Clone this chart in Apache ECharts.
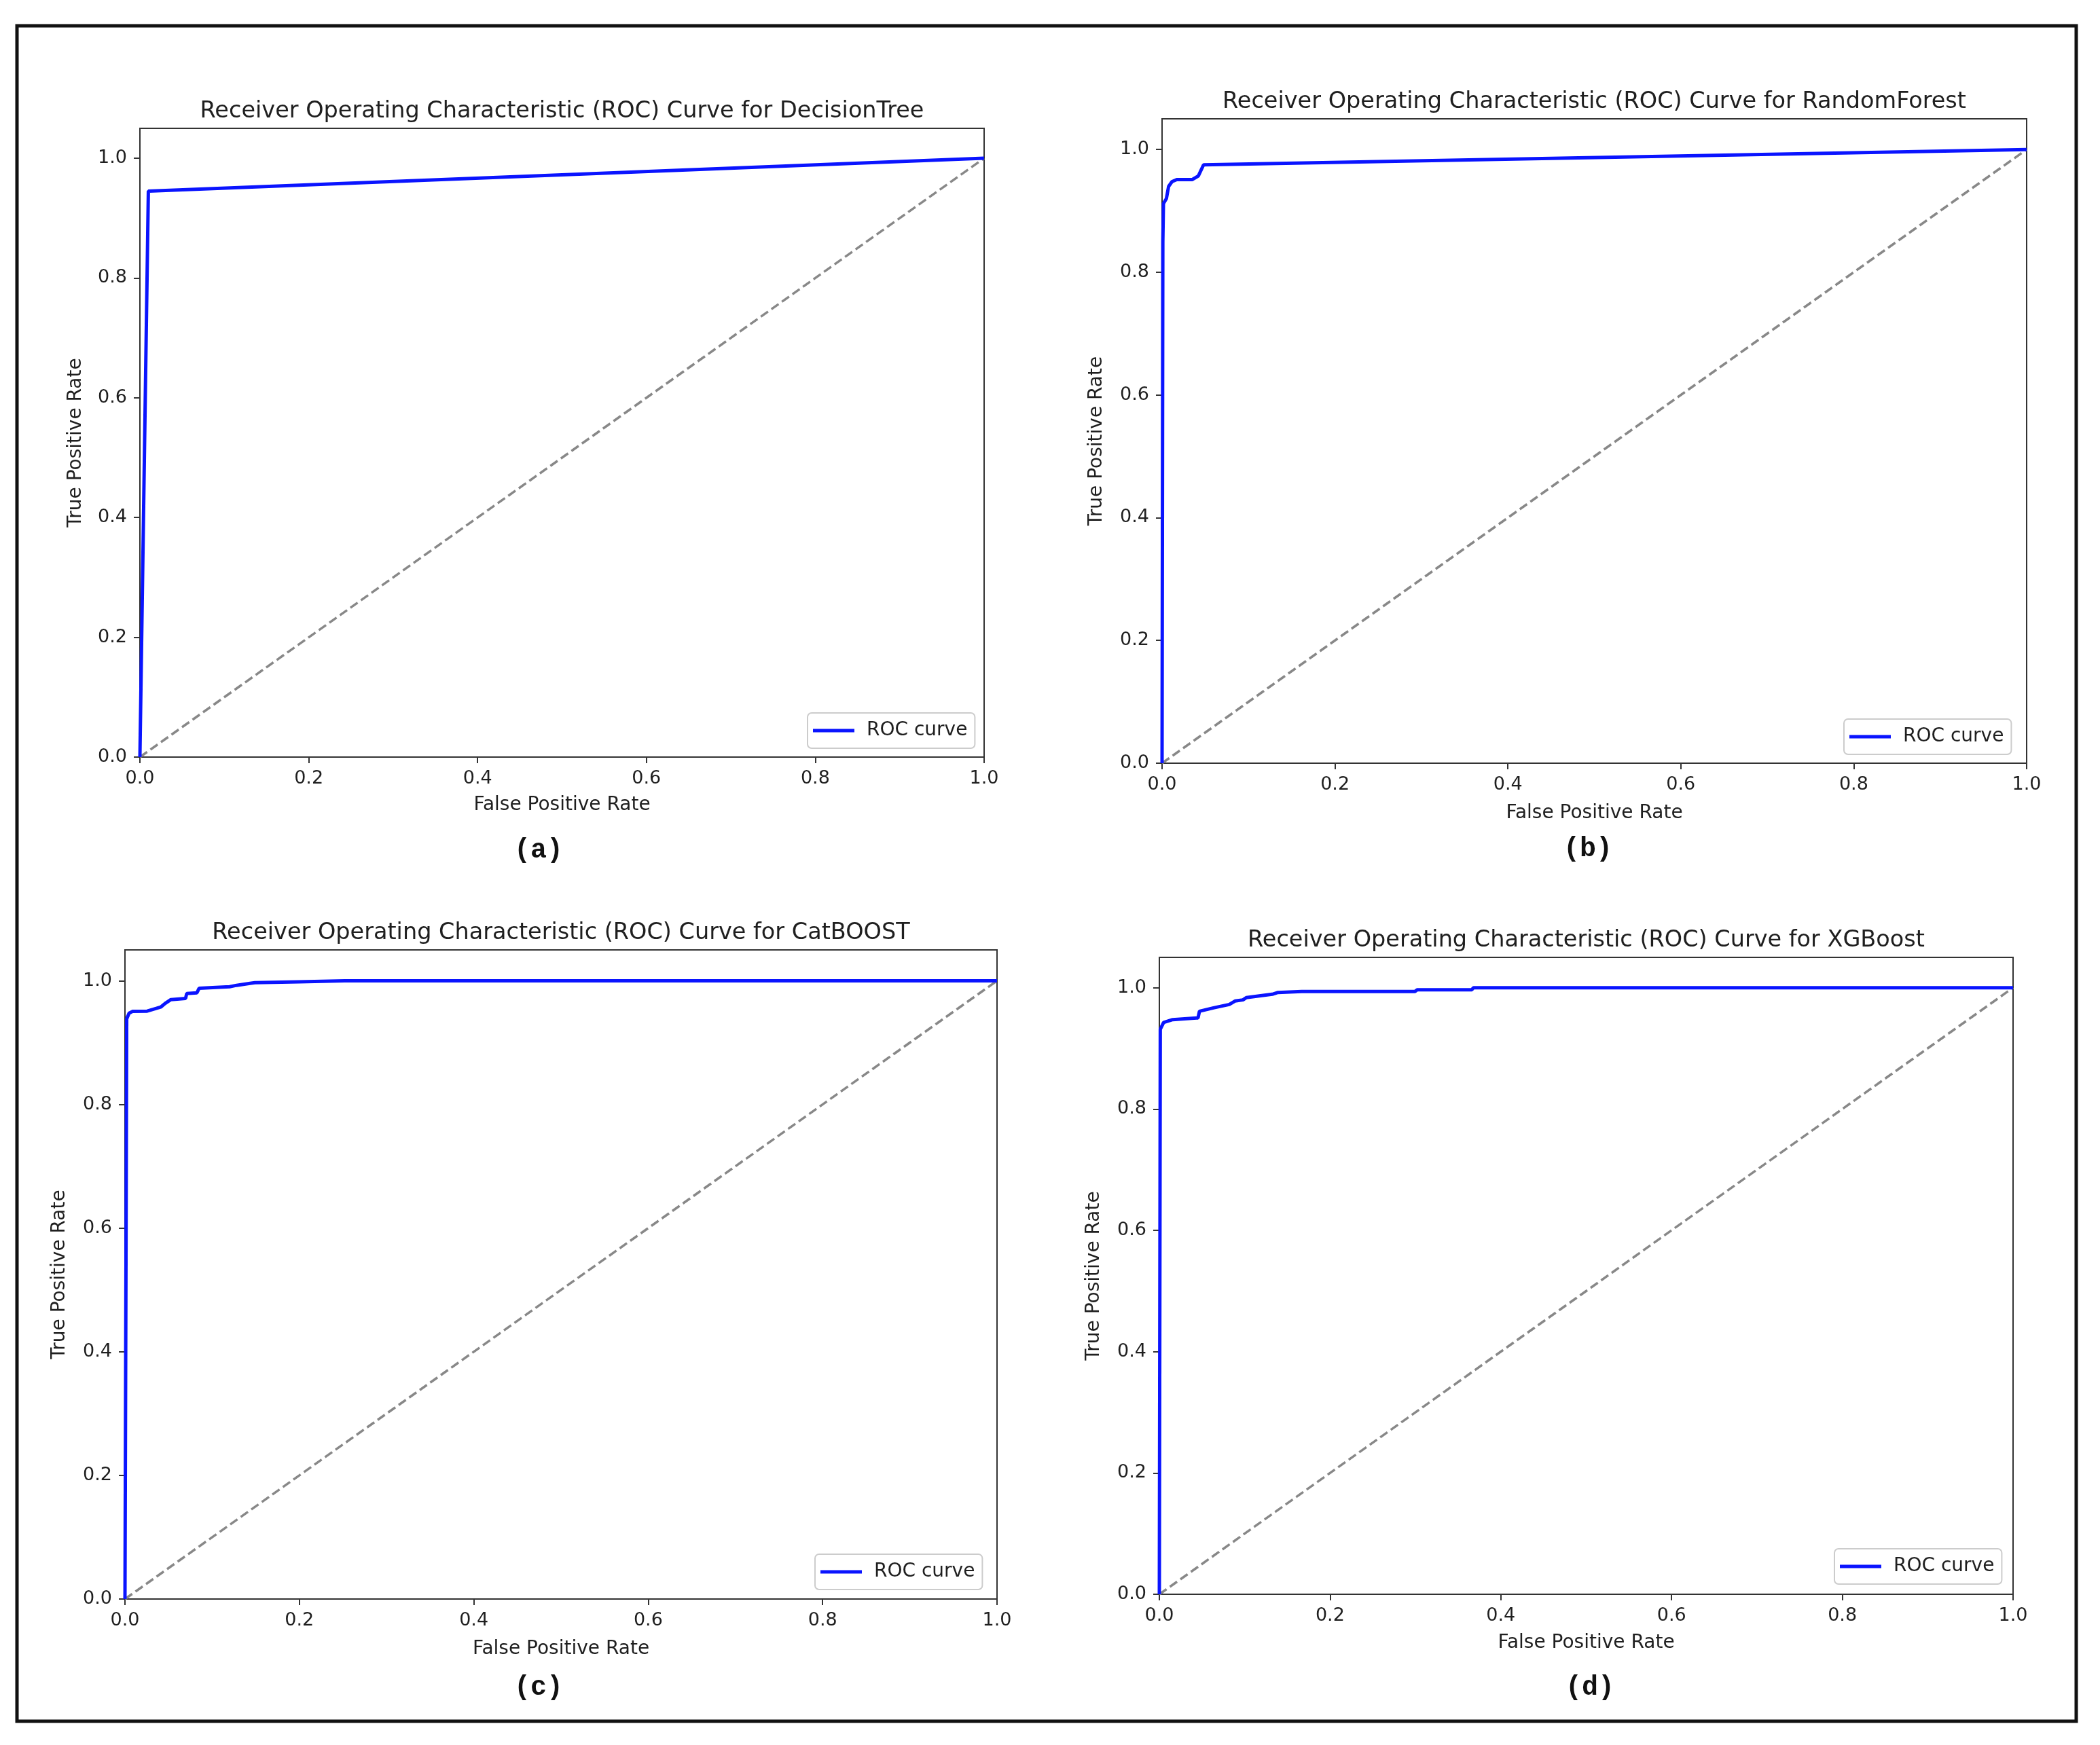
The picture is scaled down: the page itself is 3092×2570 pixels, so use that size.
<!DOCTYPE html>
<html><head><meta charset="utf-8">
<script src="https://cdn.jsdelivr.net/npm/echarts@6/dist/echarts.min.js"></script>
<style>html,body{margin:0;padding:0;background:#fff}#c{width:3092px;height:2570px}</style>
</head><body><div id="c"></div>
<script>
// ---- data ----
const modelNames = ['DecisionTree', 'RandomForest', 'CatBOOST', 'XGBoost'];
const panelLetters = ['(a)', '(b)', '(c)', '(d)'];
const tickValues = [0, 0.2, 0.4, 0.6, 0.8, 1.0];
const diagonalFpr = [0, 1];
const diagonalTpr = [0, 1];

const fprDecisionTree = [0, 0.01, 1];
const tprDecisionTree = [0, 0.945, 1];

const fprRandomForest = [0, 0.0009, 0.0016, 0.005, 0.0076, 0.0115, 0.017, 0.035, 0.042, 0.048, 1];
const tprRandomForest = [0, 0.85, 0.912, 0.92, 0.94, 0.9476, 0.951, 0.951, 0.957, 0.975, 1];

const fprCatBoost = [0, 0.002, 0.0047, 0.0086, 0.0254, 0.032, 0.041, 0.046, 0.0527, 0.0695, 0.0708, 0.0825, 0.085, 0.12, 0.128, 0.1434, 0.149, 0.2, 0.252, 1];
const tprCatBoost = [0, 0.9385, 0.9476, 0.9505, 0.951, 0.9538, 0.9575, 0.9634, 0.9696, 0.9714, 0.9795, 0.9806, 0.9879, 0.9905, 0.9927, 0.996, 0.997, 0.9985, 1, 1];

const fprXGBoost = [0, 0.0011, 0.005, 0.0156, 0.0435, 0.0453, 0.047, 0.0634, 0.0819, 0.0886, 0.0979, 0.1018, 0.1323, 0.139, 0.1668, 0.2994, 0.302, 0.366, 0.368, 1];
const tprXGBoost = [0, 0.9314, 0.9426, 0.9474, 0.95, 0.95, 0.9612, 0.9668, 0.9724, 0.978, 0.9799, 0.9836, 0.9892, 0.9922, 0.9937, 0.9937, 0.9966, 0.9966, 1, 1];

const fprAll = [fprDecisionTree, fprRandomForest, fprCatBoost, fprXGBoost];
const tprAll = [tprDecisionTree, tprRandomForest, tprCatBoost, tprXGBoost];

// ---- layout ----
const gridBoxes = [
  {left: 206, top: 189, width: 1243, height: 926},
  {left: 1711, top: 175, width: 1273, height: 949},
  {left: 184, top: 1399, width: 1284, height: 956},
  {left: 1707, top: 1410, width: 1257, height: 938}
];
const xNameGaps = [57, 60, 60, 58];
const yNameGaps = [80, 82, 82, 82];
const legendPos = [[1189, 1050], [2715, 1059], [1200, 2289], [2701, 2281]];
const letterPos = [[793, 1253], [2338, 1251], [793, 2486], [2341, 2486]];

const SANS = 'DejaVu Sans';
const TXT = '#1f1f1f';
const SPINE = '#333';

const pairs = (xs, ys) => xs.map((x, i) => [x, ys[i]]);

const grid = [], xAxis = [], yAxis = [], series = [], title = [], legend = [];
gridBoxes.forEach((g, i) => {
  grid.push({left: g.left, top: g.top, width: g.width, height: g.height, show: true,
    borderColor: SPINE, borderWidth: 2, backgroundColor: 'transparent', containLabel: false});
  xAxis.push({type: 'value', gridIndex: i, min: 0, max: 1, interval: 0.2,
    name: 'False Positive Rate', nameLocation: 'middle', nameGap: xNameGaps[i],
    nameTextStyle: {fontFamily: SANS, fontSize: 28, color: TXT},
    axisLine: {show: true, onZero: false, lineStyle: {color: SPINE, width: 2}},
    axisTick: {show: true, length: 9, lineStyle: {color: SPINE, width: 2}, customValues: tickValues},
    axisLabel: {fontFamily: SANS, fontSize: 27, color: TXT, margin: 18, customValues: tickValues,
      formatter: v => v.toFixed(1)},
    splitLine: {show: false}});
  yAxis.push({type: 'value', gridIndex: i, min: 0, max: 1.05, interval: 0.2,
    name: 'True Positive Rate', nameLocation: 'middle', nameGap: yNameGaps[i], nameRotate: 90,
    nameTextStyle: {fontFamily: SANS, fontSize: 28, color: TXT},
    axisLine: {show: true, onZero: false, lineStyle: {color: SPINE, width: 2}},
    axisTick: {show: true, length: 9, lineStyle: {color: SPINE, width: 2}, customValues: tickValues},
    axisLabel: {fontFamily: SANS, fontSize: 27, color: TXT, margin: 19, customValues: tickValues,
      formatter: v => v.toFixed(1)},
    splitLine: {show: false}});
  series.push({type: 'line', name: 'diagonal', xAxisIndex: i, yAxisIndex: i,
    data: pairs(diagonalFpr, diagonalTpr), symbol: 'none', silent: true, z: 2,
    lineStyle: {color: '#888888', width: 3.5, type: [13, 6]}});
  series.push({type: 'line', name: 'ROC curve', xAxisIndex: i, yAxisIndex: i,
    data: pairs(fprAll[i], tprAll[i]), symbol: 'none', showSymbol: false, z: 3,
    lineStyle: {color: '#0a14ff', width: 5}, itemStyle: {color: '#0a14ff'}});
  title.push({text: 'Receiver Operating Characteristic (ROC) Curve for ' + modelNames[i],
    left: g.left + g.width / 2, top: g.top - 42, textAlign: 'center', padding: 0,
    textStyle: {fontFamily: SANS, fontSize: 33.5, fontWeight: 'normal', color: TXT}});
  title.push({text: panelLetters[i], left: letterPos[i][0], top: letterPos[i][1] - 20,
    textAlign: 'center', padding: 0,
    textStyle: {fontFamily: 'Liberation Mono', fontSize: 40, fontWeight: 'bold', color: '#111'}});
  legend.push({data: ['ROC curve'], left: legendPos[i][0], top: legendPos[i][1], orient: 'vertical',
    backgroundColor: 'rgba(255,255,255,0.8)', borderColor: '#cccccc', borderWidth: 2, borderRadius: 6,
    padding: [12, 11, 12, 8], icon: 'rect', itemWidth: 61, itemHeight: 5,
    itemStyle: {color: '#0a14ff'},
    textStyle: {fontFamily: SANS, fontSize: 28, color: TXT, padding: [0, 0, 0, 13]},
    selectedMode: false});
});

const chart = echarts.init(document.getElementById('c'), null, {renderer: 'canvas'});
chart.setOption({
  animation: false,
  backgroundColor: '#ffffff',
  grid, xAxis, yAxis, series, title, legend,
  graphic: [{type: 'rect', shape: {x: 25, y: 38, width: 3032, height: 2497},
    style: {fill: 'none', stroke: '#111', lineWidth: 5}, silent: true, z: 100}]
});
</script></body></html>
